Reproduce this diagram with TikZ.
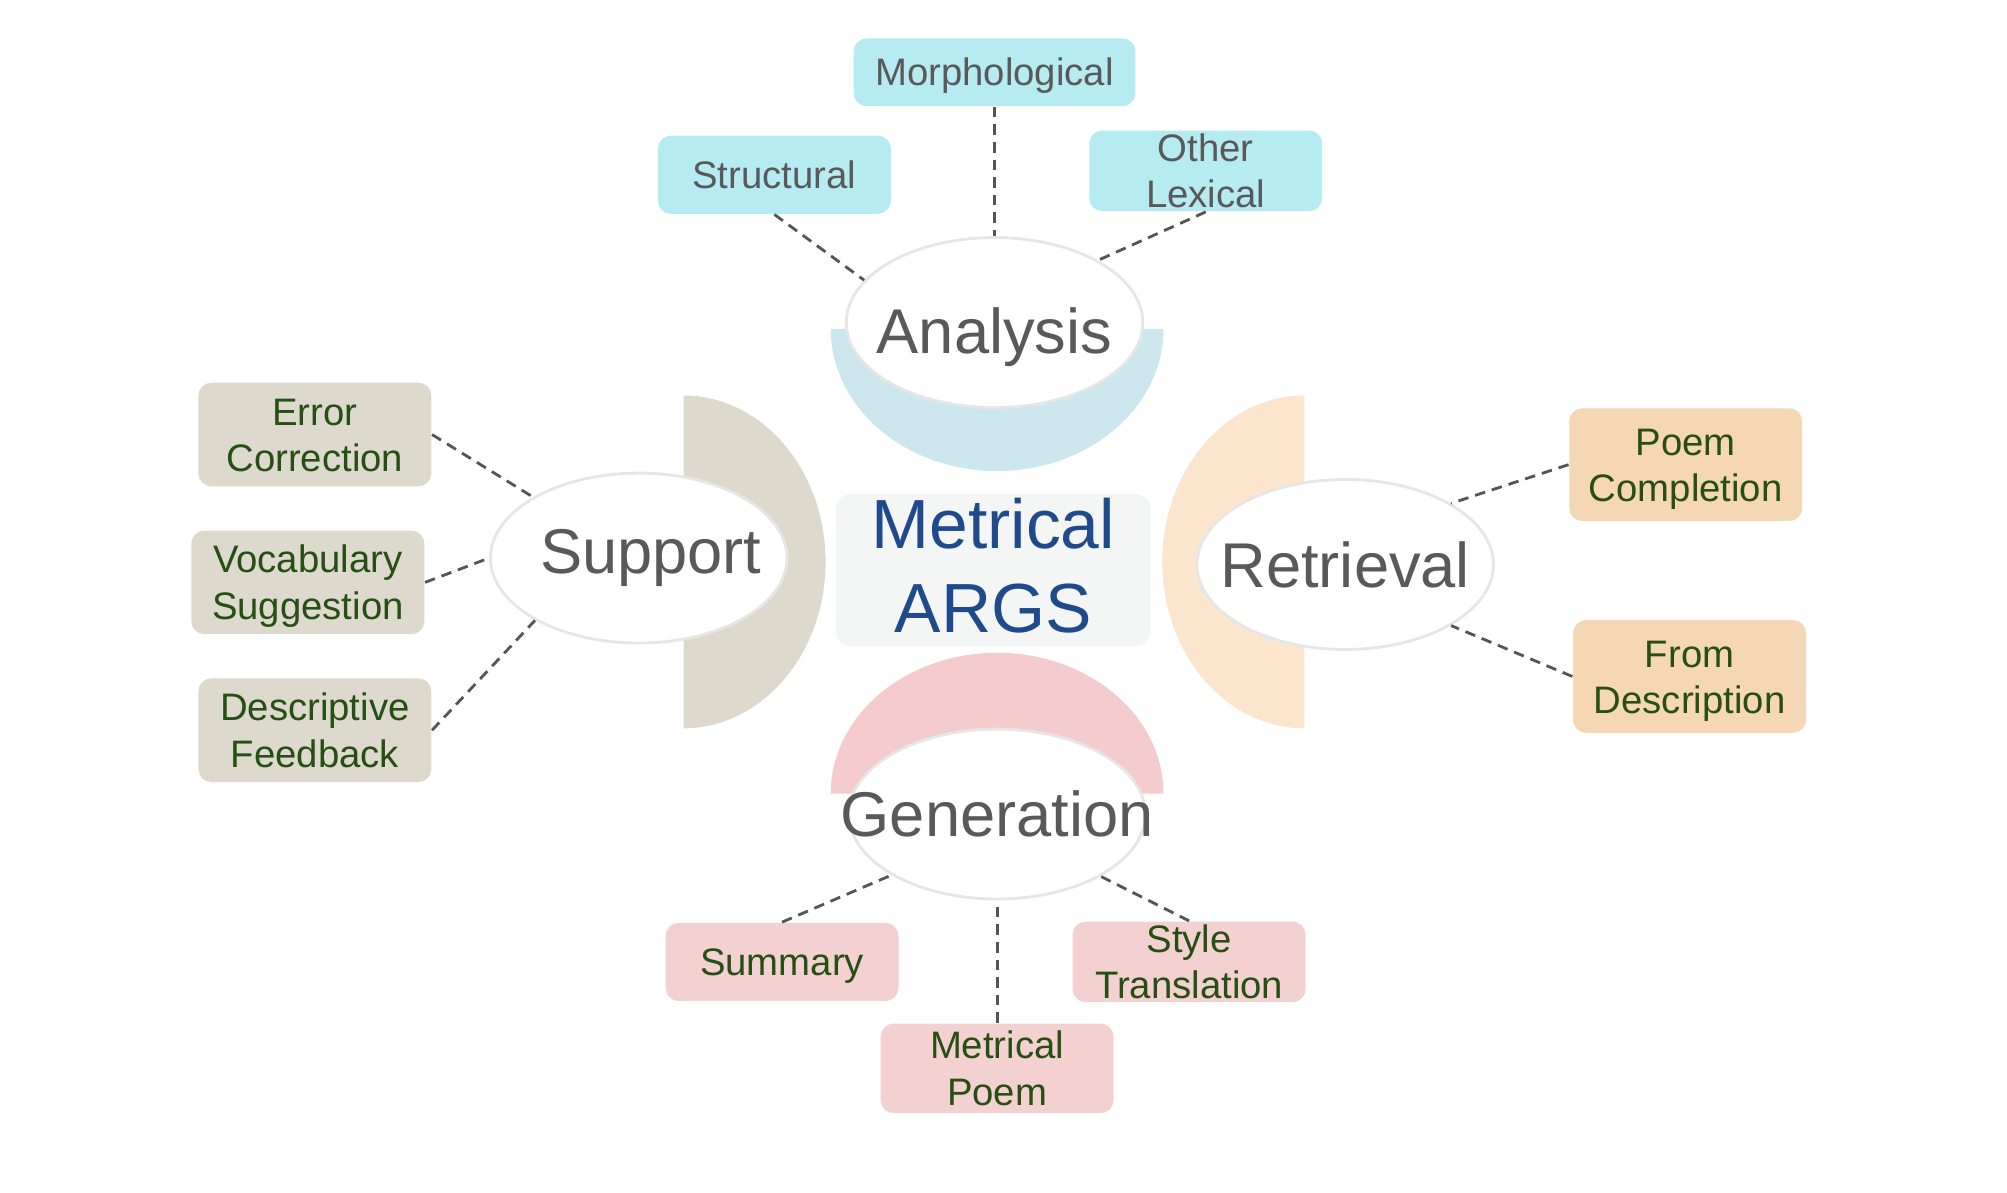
\documentclass[tikz,border=0pt]{standalone}
\usepackage{fontspec}
\setmainfont{Liberation Sans}
\usepackage{tikz}
\usetikzlibrary{shapes.geometric}
\usetikzlibrary{positioning}
\definecolor{anaBox}{HTML}{B5EBF1}
\definecolor{anaArc}{HTML}{CDE7EE}
\definecolor{supTan}{HTML}{DDD9CC}
\definecolor{retArc}{HTML}{FCE5CD}
\definecolor{retBox}{HTML}{F5D6B5}
\definecolor{genArc}{HTML}{F4CCCD}
\definecolor{genBox}{HTML}{F4D1D1}
\definecolor{hubFill}{HTML}{F3F6F4}
\definecolor{hubText}{HTML}{1F4A8C}
\definecolor{labelGray}{HTML}{595959}
\definecolor{leafGreen}{HTML}{274E13}
\definecolor{ringGray}{HTML}{E6E6E6}
\definecolor{linkGray}{HTML}{555555}
\tikzset{
    hub/.style = {
        rectangle,
        rounded corners=0.15cm,
        fill=hubFill,
        minimum width=3.149cm,
        minimum height=1.523cm,
        inner ysep=0pt,
        align=center,
        text height=38.1pt,
        text depth=2.9pt,
        text=hubText,
        font=\fontsize{19.8}{23.9}\selectfont,
    },
    task/.style = {
        ellipse,
        fill=white,
        draw=ringGray,
        line width=0.8pt,
        minimum width=2.966cm,
        minimum height=1.70cm,
        inner sep=0pt,
        text height=13pt,
        text depth=0pt,
        text=labelGray,
        font=\fontsize{18}{21}\selectfont,
        execute at begin node={\hbox to 0pt\bgroup\hss\hskip#1\relax},
        execute at end node={\hss\egroup},
    },
    task/.default=0pt,
    leaf/.style = {
        rectangle,
        rounded corners=0.13cm,
        minimum width=2.330cm,
        minimum height=0.781cm,
        inner xsep=2pt,
        inner ysep=1pt,
        align=center,
        text height=7.8pt,
        text depth=0pt,
        font=\fontsize{10.9}{13.15}\selectfont,
    },
    twoline/.style = {text height=20.95pt, text depth=0pt,},
    analeaf/.style = {leaf, fill=anaBox, text=labelGray,},
    supleaf/.style = {leaf, twoline, fill=supTan, text=leafGreen, minimum height=1.037cm,},
    retleaf/.style = {leaf, twoline, fill=retBox, text=leafGreen, minimum height=1.127cm,},
    genleaf/.style = {leaf, fill=genBox, text=leafGreen,},
}
\tikzstyle{link} = [draw=linkGray, line width=0.8pt, dash pattern=on 3pt off 2pt]

\begin{document}
\begin{tikzpicture}[x=0.0128cm, y=0.0128cm]
        \useasboundingbox (0,-11) rectangle (1568,921);

        % half discs behind the four tasks
        \fill [anaArc] (649,664) arc [start angle=180, end angle=360, x radius=130, y radius=111] -- cycle;
        \fill [genArc] (649,301) arc [start angle=180, end angle=0, x radius=130, y radius=110] -- cycle;
        \fill [supTan] (534,352) arc [start angle=-90, end angle=90, x radius=111, y radius=130] -- cycle;
        \fill [retArc] (1019,612) arc [start angle=90, end angle=270, x radius=111, y radius=130] -- cycle;

        \node(args) [hub] at (776,475.5)
        {Metrical\\ARGS};

        \node(ana) [task, text height=17.4pt] at (777,669)
        {Analysis};
        \node(sup) [task=6.9pt, text height=9pt] at (499,485)
        {Support};
        \node(ret) [task] at (1051,480)
        {Retrieval};
        \node(gen) [task] at (779,285)
        {Generation};

        \node(morph) [analeaf, minimum width=2.818cm, minimum height=0.678cm, above = 1.293cm of ana]
        {Morphological};
        \node(struct) [analeaf] at (605,784.5)
        {Structural};
        \node(lexical) [analeaf, twoline] at (942,787.5)
        {Other\\Lexical};

        \node(error) [supleaf] at (246,581.5)
        {Error\\Correction};
        \node(vocab) [supleaf] at (240.5,466)
        {Vocabulary\\Suggestion};
        \node(descr) [supleaf] at (246,350.5)
        {Descriptive\\Feedback};

        \node(poemc) [retleaf] at (1317,558)
        {Poem\\Completion};
        \node(fromd) [retleaf] at (1320,392.5)
        {From\\Description};

        \node(summ) [genleaf] at (611,169.5)
        {Summary};
        \node(style) [genleaf, twoline] at (929,169.5)
        {Style\\Translation};
        \node(mpoem) [genleaf, twoline, minimum height=0.896cm, below = 1.224cm of gen]
        {Metrical\\Poem};

        \draw [link] (morph.south) -- (ana.north);
        \draw [link] (struct.south) -- (ana.162);
        \draw [link] (lexical.south) -- (ana.31);
        \draw [link] (error.east) -- (sup.150);
        \draw [link] (vocab.east) -- (sup.west);
        \draw [link] (descr.east) -- (sup.211);
        \draw [link] (poemc.west) -- (ret.30);
        \draw [link] (fromd.west) -- (ret.-30);
        \draw [link] (summ.north) -- (gen.210);
        \draw [link] (mpoem.north) -- (gen.south);
        \draw [link] (style.north) -- (gen.-31);

    \end{tikzpicture}
\end{document}
